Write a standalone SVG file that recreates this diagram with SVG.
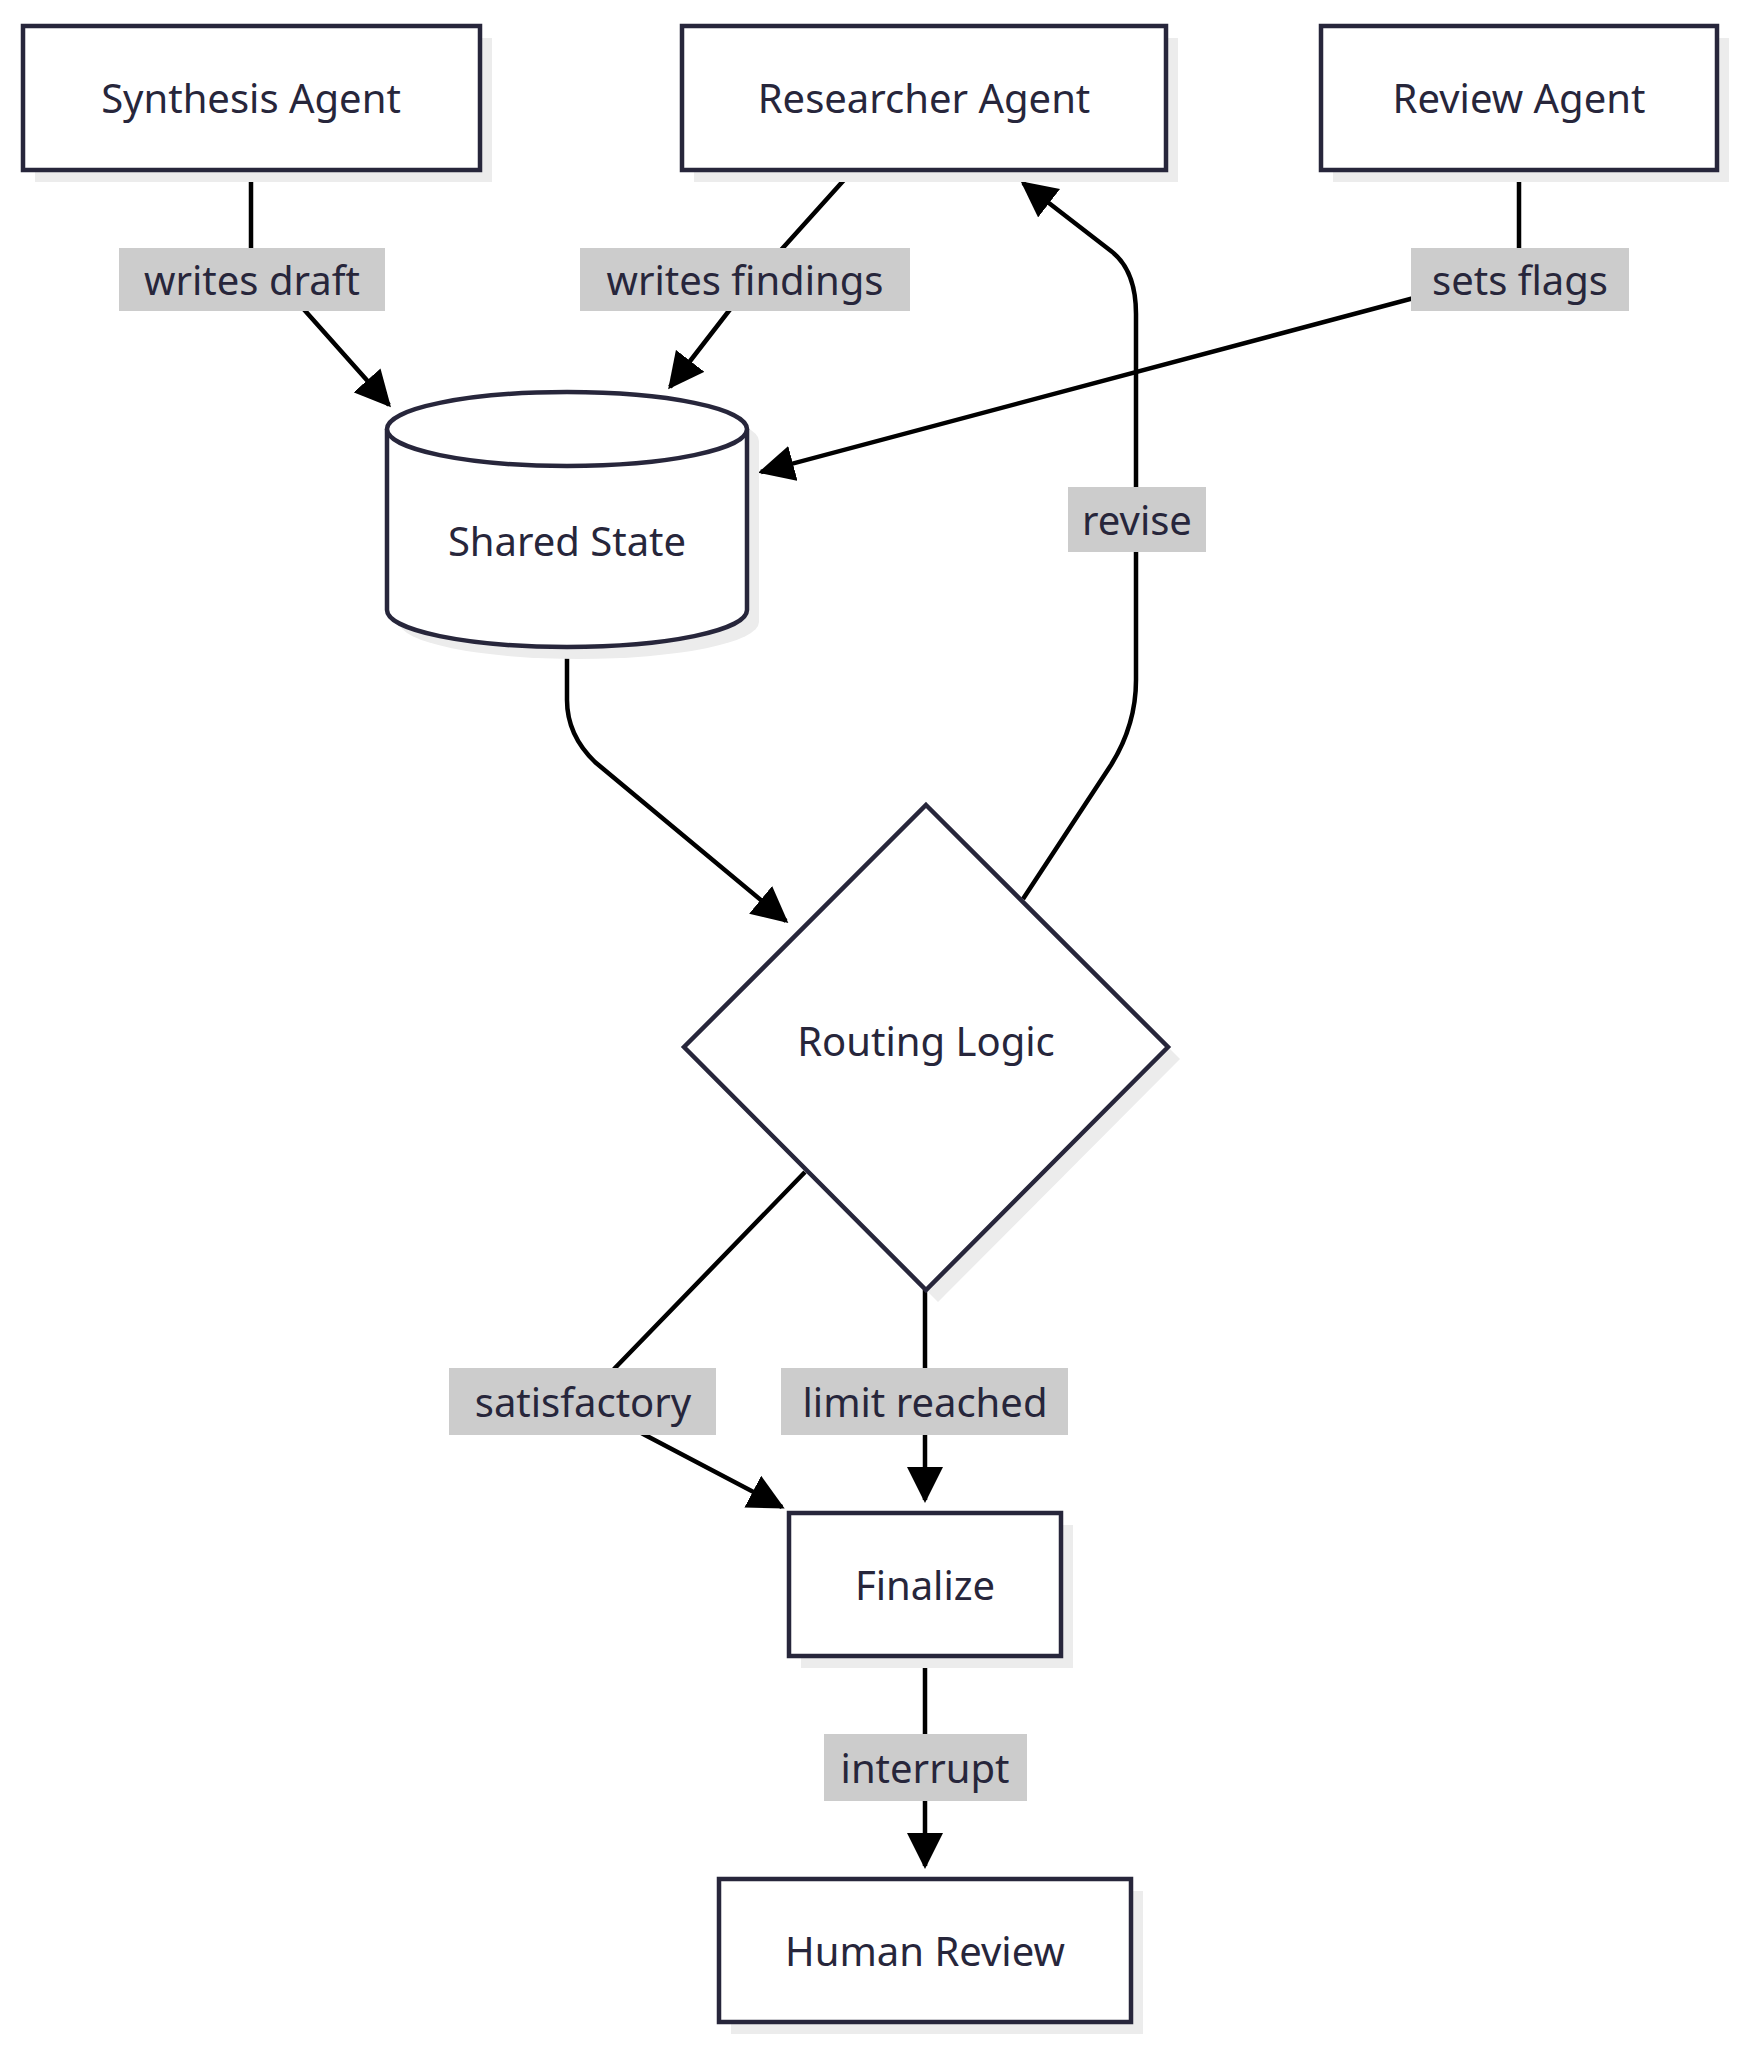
<svg xmlns="http://www.w3.org/2000/svg" width="1757" height="2048" viewBox="0 0 1757 2048">
<style>
.n{fill:#fff;stroke:#27263b;stroke-width:4.5}
.sh{fill:#ececec}
.t{font-family:"Noto Sans","Open Sans",sans-serif;font-size:40px;fill:#27263b;text-anchor:middle;dominant-baseline:central}
.e{fill:none;stroke:#000;stroke-width:4.5}
.lb{fill:#cccccc}
</style>
<defs>
<marker id="a" markerUnits="userSpaceOnUse" markerWidth="36" markerHeight="36" viewBox="0 0 12 12" refX="11" refY="6" orient="auto">
<path d="M0,0 L12,6 L0,12 z" fill="#000"/>
</marker>
</defs>
<rect width="1757" height="2048" fill="#fff"/>
<g id="connectors">
<path class="e" d="M251,170 L251,250 L389,405" marker-end="url(#a)"/>
<path class="e" d="M853,170 L745,290 L670,387" marker-end="url(#a)"/>
<path class="e" d="M1519,170 L1519,270 L761,472" marker-end="url(#a)"/>
<path class="e" d="M567,647 L567,700 Q567,735 595,762 L786,921" marker-end="url(#a)"/>
<path class="e" d="M1023,899 L1111,765 Q1136,725 1136,680 L1136,314 Q1136,270 1111,251 L1023,183" marker-end="url(#a)"/>
<path class="e" d="M805,1172 L615,1368 Q583,1401 645,1435 L782,1507" marker-end="url(#a)"/>
<path class="e" d="M925,1290 L925,1500" marker-end="url(#a)"/>
<path class="e" d="M925,1656 L925,1866" marker-end="url(#a)"/>
<rect class="lb" x="119" y="248" width="266" height="63"/><text class="t" x="252" y="279">writes draft</text>
<rect class="lb" x="580" y="248" width="330" height="63"/><text class="t" x="745" y="279">writes findings</text>
<rect class="lb" x="1411" y="248" width="218" height="63"/><text class="t" x="1520" y="279">sets flags</text>
<rect class="lb" x="1068" y="487" width="138" height="65"/><text class="t" x="1137" y="519">revise</text>
<rect class="lb" x="449" y="1368" width="267" height="67"/><text class="t" x="583" y="1401">satisfactory</text>
<rect class="lb" x="781" y="1368" width="287" height="67"/><text class="t" x="925" y="1401">limit reached</text>
<rect class="lb" x="824" y="1734" width="203" height="67"/><text class="t" x="925" y="1767">interrupt</text>
</g>
<g id="synthesis"><rect class="sh" x="35" y="38" width="457" height="144"/><rect class="n" x="23" y="26" width="457" height="144"/><text class="t" x="251" y="97">Synthesis Agent</text></g>
<g id="researcher"><rect class="sh" x="694" y="38" width="484" height="144"/><rect class="n" x="682" y="26" width="484" height="144"/><text class="t" x="924" y="97">Researcher Agent</text></g>
<g id="review"><rect class="sh" x="1333" y="38" width="396" height="144"/><rect class="n" x="1321" y="26" width="396" height="144"/><text class="t" x="1519" y="97">Review Agent</text></g>
<g id="shared">
<path class="sh" d="M399,441 A180,37 0 0 1 759,441 L759,622 A180,37 0 0 1 399,622 Z"/>
<path class="n" d="M387,429 A180,37 0 0 1 747,429 L747,610 A180,37 0 0 1 387,610 Z"/>
<path class="n" d="M387,429 A180,37 0 0 0 747,429" fill="none"/>
<text class="t" x="567" y="540">Shared State</text>
</g>
<g id="routing"><path class="sh" d="M938,817 L1180,1059 L938,1302 L696,1059 Z"/><path class="n" d="M926,805 L1168,1047 L926,1290 L684,1047 Z"/><text class="t" x="926" y="1040">Routing Logic</text></g>
<g id="finalize"><rect class="sh" x="801" y="1525" width="272" height="143"/><rect class="n" x="789" y="1513" width="272" height="143"/><text class="t" x="925" y="1584">Finalize</text></g>
<g id="human"><rect class="sh" x="731" y="1891" width="412" height="143"/><rect class="n" x="719" y="1879" width="412" height="143"/><text class="t" x="925" y="1950">Human Review</text></g>
</svg>
